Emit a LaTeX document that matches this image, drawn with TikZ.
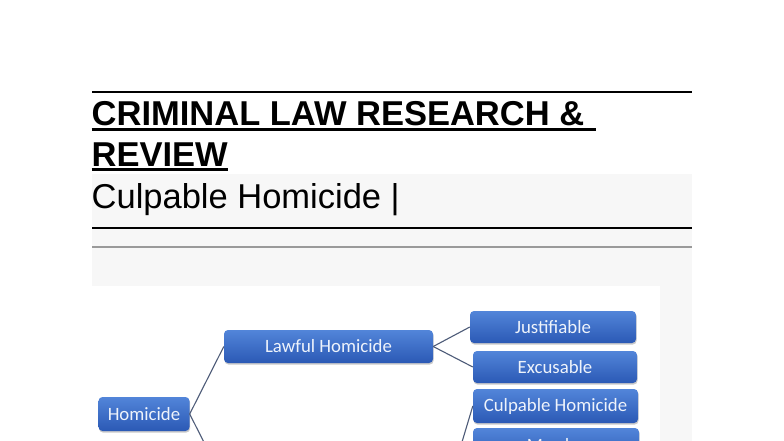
\documentclass[tikz,border=0pt]{standalone}
\usepackage{fontspec}
\setmainfont{Liberation Sans}
\newfontfamily\boxfont{Carlito}
\usetikzlibrary{shadows,calc}
\definecolor{pagegray}{HTML}{F7F7F7}
\definecolor{rulegray}{HTML}{9A9A9A}
\definecolor{boxtop}{HTML}{5285D9}
\definecolor{boxbot}{HTML}{2B59B5}
\definecolor{boxtext}{HTML}{EEF3FB}
\definecolor{connc}{HTML}{4D5B78}
\begin{document}
\begin{tikzpicture}[x=1pt,y=-1pt,
  box/.style={rounded corners=4pt, top color=boxtop, bottom color=boxbot,
    text=boxtext, font=\boxfont\fontsize{18.8}{20}\selectfont, inner sep=0pt,
    drop shadow={shadow xshift=0.6pt, shadow yshift=-1.6pt, opacity=0.35, fill=black!60}},
  head/.style={anchor=base west, inner sep=0pt, text=black},
  conn/.style={draw=connc, line width=1.1pt},
  rulel/.style={line width=2pt}]
\useasboundingbox (0,0) rectangle (784,441);
\clip (0,0) rectangle (784,441);
% backgrounds
\fill[pagegray] (92,174) rectangle (692,441);
\fill[white] (92,286) rectangle (660,441);
% rules
\draw[rulel, black] (92,92) -- (692,92);
\draw[rulel, black] (92,228) -- (692,228);
\draw[rulel, rulegray] (92,247) -- (692,247);
% headings
\node[head, font=\bfseries\fontsize{34.5}{40}\selectfont] (t1) at (91.5,126) {CRIMINAL LAW RESEARCH \&};
\node[head, font=\bfseries\fontsize{34.5}{40}\selectfont] (t2) at (91.5,166) {REVIEW};
\node[head, font=\fontsize{34.5}{40}\selectfont] (t3) at (91.5,208) {Culpable Homicide |};
\draw[line width=2.4pt] ($(t1.base west)+(0,3.6)$) -- ($(t1.base east)+(12,3.6)$);
\draw[line width=2.4pt] ($(t2.base west)+(0,3.6)$) -- ($(t2.base east)+(0,3.6)$);
% diagram nodes
\node[box, minimum width=91pt, minimum height=34pt] (hom) at (144,414) {Homicide};
\node[box, minimum width=209pt, minimum height=33pt] (law) at (328.5,346.5) {Lawful Homicide};
\node[box, minimum width=166pt, minimum height=32pt] (jus) at (553,327) {Justifiable};
\node[box, minimum width=164pt, minimum height=32pt] (exc) at (555,367) {Excusable};
\node[box, minimum width=165pt, minimum height=34pt] (cul) at (555.5,406) {Culpable Homicide};
\node[box, minimum width=166pt, minimum height=34pt] (mur) at (556,445) {Murder};
\coordinate (uin) at (224,482);
\coordinate (uout) at (435,532);
% connectors
\draw[conn] (hom.east) -- (law.west);
\draw[conn] (hom.east) -- (uin);
\draw[conn] (law.east) -- (jus.west);
\draw[conn] (law.east) -- (exc.west);
\draw[conn] (uout) -- (cul.west);
\end{tikzpicture}
\end{document}
